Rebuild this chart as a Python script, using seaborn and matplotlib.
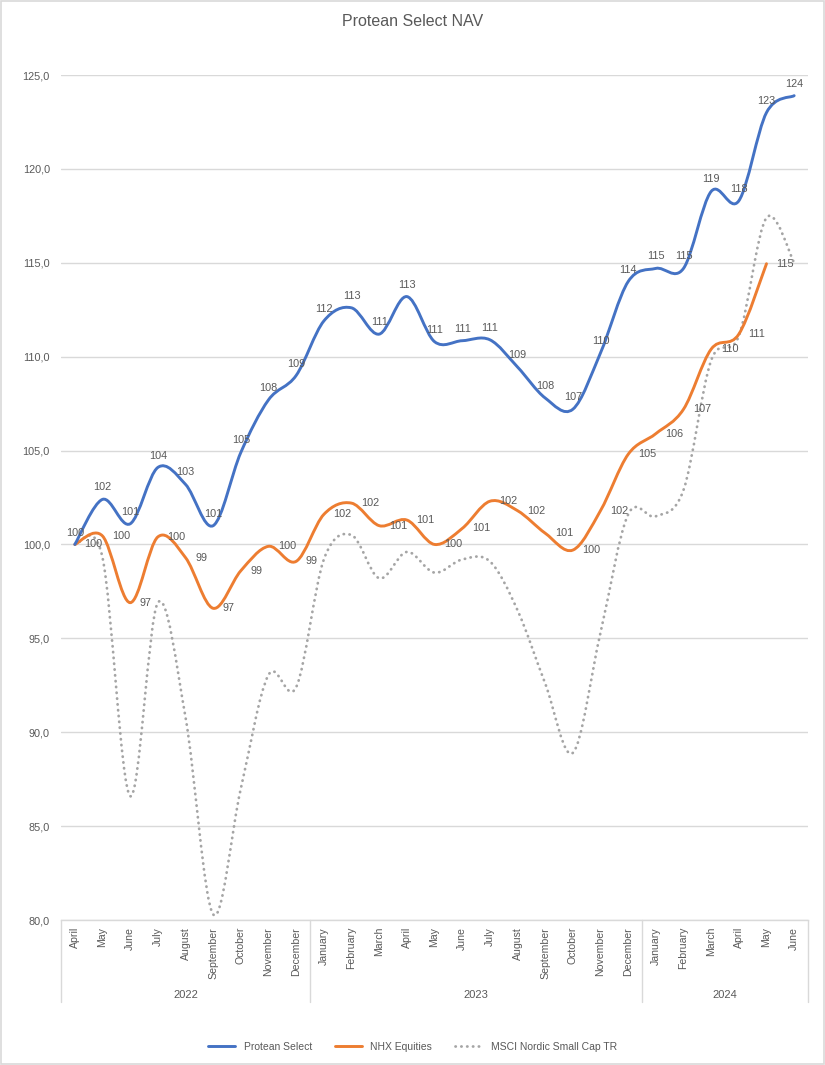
import numpy as np
import pandas as pd
import matplotlib
matplotlib.use("Agg")
import matplotlib.pyplot as plt
import matplotlib.patheffects as pe
from matplotlib.path import Path
from matplotlib.transforms import IdentityTransform
from matplotlib.lines import Line2D
from matplotlib.patches import Rectangle
import seaborn as sns

# chart data
months = ["April", "May", "June", "July", "August", "September", "October",
          "November", "December",
          "January", "February", "March", "April", "May", "June", "July",
          "August", "September", "October", "November", "December",
          "January", "February", "March", "April", "May", "June"]
years = ["2022"] * 9 + ["2023"] * 12 + ["2024"] * 6

protean = [100.0, 102.4, 101.1, 104.1, 103.2, 101.0, 104.9, 107.7, 109.0,
           111.9, 112.6, 111.2, 113.2, 110.8, 110.85, 110.9, 109.45, 107.8,
           107.2, 110.2, 114.0, 114.7, 114.7, 118.8, 118.3, 123.0, 123.9]
nhx = [100.0, 100.45, 96.9, 100.4, 99.3, 96.6, 98.6, 99.9, 99.1,
       101.6, 102.2, 101.0, 101.3, 100.0, 100.85, 102.3, 101.8, 100.6,
       99.7, 101.8, 104.8, 105.9, 107.2, 110.4, 111.2, 114.95]
msci = [100.0, 99.3, 86.6, 96.9, 90.8, 80.3, 87.0, 93.05, 92.4,
        99.2, 100.5, 98.2, 99.6, 98.5, 99.2, 99.1, 96.5, 92.6,
        88.9, 95.3, 101.6, 101.5, 102.9, 109.8, 111.1, 117.4, 115.0]

series_names = ["Protean Select", "NHX Equities", "MSCI Nordic Small Cap TR"]
colors = {"Protean Select": "#4472C4", "NHX Equities": "#ED7D31",
          "MSCI Nordic Small Cap TR": "#A5A5A5"}
text_col = "#595959"
grid_col = "#D9D9D9"


class SmoothLine(pe.AbstractPathEffect):
    """Draw the polyline as an Excel-like smoothed curve (Catmull-Rom bezier)."""

    def draw_path(self, renderer, gc, tpath, affine, rgbFace=None):
        pts = affine.transform(tpath.vertices)
        n = len(pts)
        if n < 3:
            renderer.draw_path(gc, tpath, affine, rgbFace)
            return
        verts = [pts[0]]
        codes = [Path.MOVETO]
        for i in range(n - 1):
            p0 = pts[i - 1] if i > 0 else pts[i]
            p1, p2 = pts[i], pts[i + 1]
            p3 = pts[i + 2] if i + 2 < n else pts[i + 1]
            verts += [p1 + (p2 - p0) / 6, p2 - (p3 - p1) / 6, p2]
            codes += [Path.CURVE4] * 3
        renderer.draw_path(gc, Path(np.array(verts), codes),
                           IdentityTransform(), rgbFace)


sns.set_theme(style="white")
plt.rcParams["font.family"] = ["Liberation Sans", "DejaVu Sans"]
plt.rcParams["lines.dash_capstyle"] = "round"
plt.rcParams["lines.solid_capstyle"] = "round"

fig = plt.figure(figsize=(8.25, 10.65), dpi=100)
ax = fig.add_axes([61 / 825, 145 / 1065, 747 / 825, 845 / 1065])

pos = np.arange(len(months))
df = pd.concat([
    pd.DataFrame({"pos": pos[:len(protean)], "value": protean, "series": series_names[0]}),
    pd.DataFrame({"pos": pos[:len(nhx)], "value": nhx, "series": series_names[1]}),
    pd.DataFrame({"pos": pos[:len(msci)], "value": msci, "series": series_names[2]}),
])

styles = {
    "Protean Select": dict(linewidth=2.1, linestyle="-"),
    "NHX Equities": dict(linewidth=2.1, linestyle="-"),
    "MSCI Nordic Small Cap TR": dict(linewidth=2.0, linestyle=(0, (0.1, 2.0))),
}
# gray first so the coloured lines sit on top
for name in series_names[::-1]:
    sub = df[df["series"] == name]
    sns.lineplot(data=sub, x="pos", y="value", ax=ax, color=colors[name],
                 label=name, legend=False, path_effects=[SmoothLine()],
                 **styles[name])

# data labels: Protean above, NHX to the right
for x, v in zip(pos, protean):
    ax.annotate(f"{v:.0f}", (x, v), xytext=(0, 5), textcoords="offset points",
                ha="center", va="bottom", fontsize=7.8, color=text_col)
for x, v in zip(pos, nhx):
    ax.annotate(f"{v:.0f}", (x, v), xytext=(7, 0), textcoords="offset points",
                ha="left", va="center", fontsize=7.8, color=text_col)

ax.set_xlim(-0.5, len(months) - 0.5)
ax.set_ylim(80, 125)
ax.set_yticks(np.arange(80, 126, 5))
ax.set_yticklabels([f"{t:.1f}".replace(".", ",") for t in np.arange(80, 126, 5)])
ax.yaxis.grid(True, color=grid_col, linewidth=1.0)
ax.xaxis.grid(False)
ax.set_axisbelow(True)
ax.set_xticks(pos)
ax.set_xticklabels(months, rotation=90, va="top", ha="center")
ax.tick_params(axis="x", length=0, pad=5, labelsize=7.6, labelcolor=text_col)
ax.tick_params(axis="y", length=0, pad=8, labelsize=7.8, labelcolor=text_col)
ax.set_xlabel("")
ax.set_ylabel("")
for s in ["top", "right", "left"]:
    ax.spines[s].set_visible(False)
ax.spines["bottom"].set_color(grid_col)
ax.spines["bottom"].set_linewidth(1.0)

# multi-level category axis: year groups and separators
yr = pd.Series(years)
groups = yr.groupby(yr, sort=False).apply(lambda g: (g.index.min(), g.index.max()))
xt = ax.get_xaxis_transform()
bounds = [-0.5] + [hi + 0.5 for lo, hi in groups]
for b in bounds:
    ax.plot([b, b], [0, -0.097], transform=xt, color=grid_col, lw=1.0,
            clip_on=False)
for year, (lo, hi) in groups.items():
    ax.text((lo + hi) / 2, -0.089, year, transform=xt, ha="center",
            va="center", fontsize=8, color=text_col)

fig.text(0.5, 1 - 21 / 1065, "Protean Select NAV", ha="center", va="center",
         fontsize=11.5, color=text_col)

handles = [Line2D([0, 1], [0, 0], color=colors[n], **styles[n]) for n in series_names]
fig.legend(handles, series_names, loc="center", bbox_to_anchor=(0.5, 18 / 1065),
           ncol=3, frameon=False, fontsize=7.5, handlelength=2.6,
           columnspacing=2.2, labelcolor=text_col)

fig.patches.append(Rectangle((0.001, 0.001), 0.998, 0.998, transform=fig.transFigure,
                             fill=False, edgecolor=grid_col, linewidth=1.2))

fig.savefig("out.png", dpi=100)
